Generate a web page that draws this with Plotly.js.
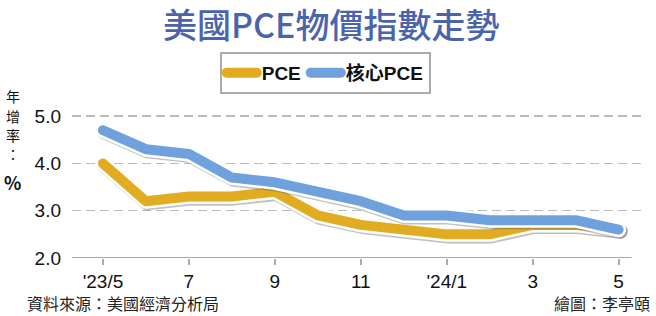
<!DOCTYPE html>
<html>
<head>
<meta charset="utf-8">
<script src="https://cdn.plot.ly/plotly-3.0.1.min.js"></script>
<style>
html, body { margin: 0; padding: 0; background: #fff; }
#chart { width: 656px; height: 316px; }
.scatterlayer path.js-line { stroke-linecap: round; stroke-linejoin: round; }
.legend path.js-line { stroke-linecap: round; }
</style>
</head>
<body>
<div id="chart"></div>
<script>
// ---- data ----
const months = ["2023/5","2023/6","2023/7","2023/8","2023/9","2023/10","2023/11","2023/12","2024/1","2024/2","2024/3","2024/4","2024/5"];
const pce     = [4.0, 3.2, 3.3, 3.3, 3.4, 2.9, 2.7, 2.6, 2.5, 2.5, 2.7, 2.7, 2.6];
const corePce = [4.7, 4.3, 4.2, 3.7, 3.6, 3.4, 3.2, 2.9, 2.9, 2.8, 2.8, 2.8, 2.6];
const tickVals = ["2023/5","2023/7","2023/9","2023/11","2024/1","2024/3","2024/5"];
const tickText = ["'23/5","7","9","11","'24/1","3","5"];
const yTicks = [2, 3, 4, 5];
const seriesNames = ["PCE", "核心PCE"];
const yTitleChars = ["年", "增", "率", "：", "%"];

const GOLD = "#E1AC22";
const BLUE = "#6FA2DC";
const FONT = "Liberation Sans, Noto Sans CJK TC, sans-serif";
const CJK = "Noto Sans CJK TC, sans-serif";

const xr = [-0.72, 12.52];
const yr = [2.0, 5.34];
const dx = 0.035, dy = 0.035;   // small down-right offset for the drop shadow

// overlay axes are drawn in id order: x2 gold shadow, x3 gold line, x4 blue shadow, x5 blue line
function overlayX(shift) {
  return {type: "category", categoryorder: "array", categoryarray: months,
          range: [xr[0] - shift, xr[1] - shift], overlaying: "x", visible: false, fixedrange: true};
}
function overlayY(shift) {
  return {range: [yr[0] + shift, yr[1] + shift], overlaying: "y", visible: false, fixedrange: true};
}

function layerTraces(y, name, color, shAx, mainAx) {
  return [
    {x: months, y: y, type: "scatter", mode: "lines", xaxis: "x" + shAx, yaxis: "y" + shAx,
     line: {color: "rgba(90,90,90,0.38)", width: 15}, showlegend: false, hoverinfo: "skip"},
    {x: months, y: y, type: "scatter", mode: "lines", xaxis: "x" + mainAx, yaxis: "y" + mainAx,
     line: {color: "#ffffff", width: 15}, showlegend: false, hoverinfo: "skip"},
    {x: months, y: y, type: "scatter", mode: "lines", name: name, xaxis: "x" + mainAx, yaxis: "y" + mainAx,
     line: {color: color, width: 10}}
  ];
}

const data = [].concat(
  layerTraces(pce, seriesNames[0], GOLD, "2", "3"),
  layerTraces(corePce, seriesNames[1], BLUE, "4", "5")
);

const yTitleY = [96, 116, 135, 154, 182];
const annotations = yTitleChars.map((c, i) => ({
  text: i === 4 ? "<b>" + c + "</b>" : c, xref: "paper", yref: "paper",
  x: -0.104, y: (316 - yTitleY[i] - 58) / 158, xanchor: "center", yanchor: "middle", showarrow: false,
  font: {family: CJK, size: i === 4 ? 18 : 14, color: "#111"}
}));
annotations.push(
  {text: "資料來源：美國經濟分析局", xref: "paper", yref: "paper",
   x: -0.083, y: -0.285, xanchor: "left", yanchor: "middle", showarrow: false,
   font: {family: CJK, size: 16, color: "#222"}},
  {text: "繪圖：李亭頤", xref: "paper", yref: "paper",
   x: 1.0193, y: -0.285, xanchor: "right", yanchor: "middle", showarrow: false,
   font: {family: CJK, size: 16, color: "#222"}}
);

const layout = {
  width: 656, height: 316,
  margin: {l: 72, r: 15, t: 100, b: 58},
  paper_bgcolor: "#fff", plot_bgcolor: "#fff",
  title: {text: "美國PCE物價指數走勢", x: 0.505, xref: "container", xanchor: "center",
          y: 0.918, yref: "container", yanchor: "middle",
          font: {family: CJK, size: 34, color: "#4A64AC", weight: 500}},
  showlegend: true,
  legend: {orientation: "h", x: 0.445, xanchor: "center", xref: "paper",
           y: 1.305, yanchor: "top", yref: "paper",
           bordercolor: "#aaaaaa", borderwidth: 2, bgcolor: "#fff",
           font: {family: FONT, size: 19, color: "#111", weight: 700},
           itemwidth: 30, traceorder: "normal"},
  xaxis: {type: "category", categoryorder: "array", categoryarray: months,
          range: xr, tickvals: tickVals, ticktext: tickText,
          showgrid: false, zeroline: false, showline: false,
          ticks: "outside", ticklen: 6, tickwidth: 2, tickcolor: "#aaaaaa",
          tickfont: {family: FONT, size: 19, color: "#111"}, fixedrange: true},
  yaxis: {range: yr, tickvals: yTicks, tickformat: ".1f",
          showgrid: true, gridcolor: "#bbbbbb", gridwidth: 1.5, griddash: "9px,5px",
          zeroline: false, showline: false, ticks: "",
          ticklabelstandoff: 10,
          tickfont: {family: FONT, size: 19, color: "#111"}, fixedrange: true},
  xaxis2: overlayX(dx), yaxis2: overlayY(dy),
  xaxis3: overlayX(0),  yaxis3: overlayY(0),
  xaxis4: overlayX(dx), yaxis4: overlayY(dy),
  xaxis5: overlayX(0),  yaxis5: overlayY(0),
  shapes: [
    {type: "line", xref: "x", yref: "y", x0: -0.72, x1: 12.3, y0: 2.0, y1: 2.0,
     line: {color: "#aaaaaa", width: 2}, layer: "above"}
  ],
  annotations: annotations
};

Plotly.newPlot("chart", data, layout, {displayModeBar: false, staticPlot: true});
</script>
</body>
</html>
